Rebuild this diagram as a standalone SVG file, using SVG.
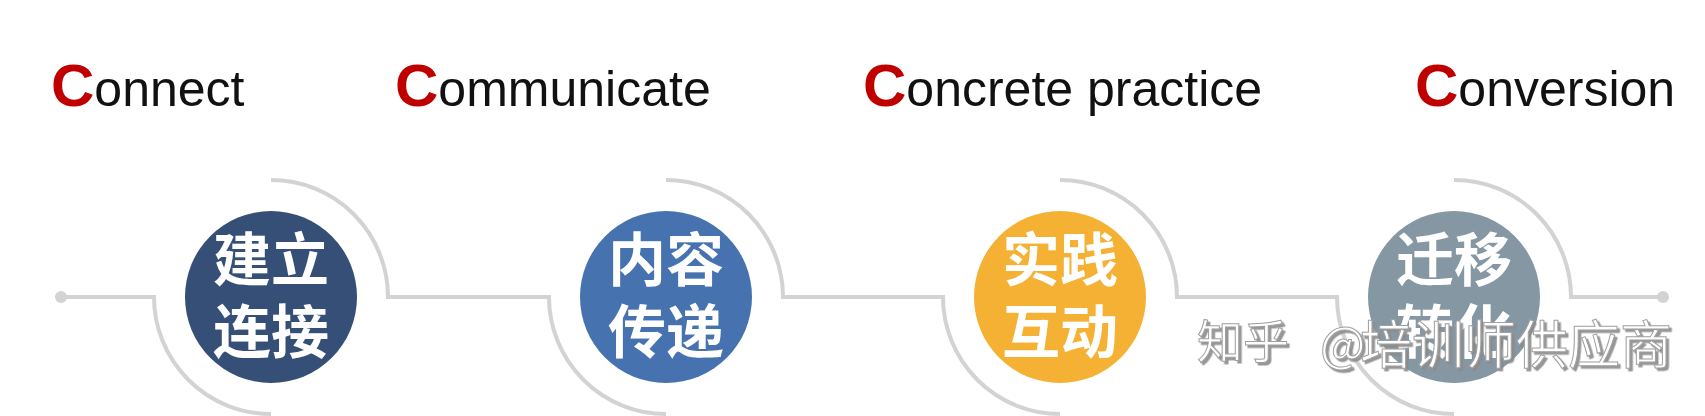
<svg xmlns="http://www.w3.org/2000/svg" width="1705" height="416" viewBox="0 0 1705 416">
  <defs>
    <style>
      .conn { fill: none; stroke: #d3d3d3; stroke-width: 4; }
      .dot { fill: #d3d3d3; }
      .title { font-family: "Liberation Sans", Arial, sans-serif; font-size: 50px; fill: #111111; }
      .cap { font-size: 60px; font-weight: bold; fill: #c00000; }
      .label { font-family: "Noto Sans CJK SC", "Noto Sans", sans-serif; font-size: 58px; font-weight: bold; fill: #ffffff; text-anchor: middle; }
      .wm { font-family: "Noto Sans CJK SC", sans-serif; fill: #ffffff; stroke: #a0a0a0; stroke-width: 1; }
    </style>
    <filter id="wmShadow" x="-5%" y="-20%" width="110%" height="140%">
      <feDropShadow dx="2.5" dy="2.5" stdDeviation="0.6" flood-color="#8a8a8a" flood-opacity="0.9"/>
    </filter>
  </defs>
  <rect width="1705" height="416" fill="#ffffff"/>

  <g id="connectors">
    <circle class="dot" cx="61" cy="297" r="6"/>
    <circle class="dot" cx="1663" cy="297" r="6"/>
    <path class="conn" d="M61 297 H154 A117 117 0 0 0 271 414"/>
    <path class="conn" d="M271 180 A117 117 0 0 1 388 297 H549 A117 117 0 0 0 666 414"/>
    <path class="conn" d="M666 180 A117 117 0 0 1 783 297 H943 A117 117 0 0 0 1060 414"/>
    <path class="conn" d="M1060 180 A117 117 0 0 1 1177 297 H1337 A117 117 0 0 0 1454 414"/>
    <path class="conn" d="M1454 180 A117 117 0 0 1 1571 297 H1663"/>
  </g>

  <g id="title-connect">
    <text class="title" x="51" y="106"><tspan class="cap">C</tspan>onnect</text>
  </g>
  <g id="title-communicate">
    <text class="title" x="395" y="106"><tspan class="cap">C</tspan>ommunicate</text>
  </g>
  <g id="title-concrete">
    <text class="title" x="863" y="106"><tspan class="cap">C</tspan>oncrete practice</text>
  </g>
  <g id="title-conversion">
    <text class="title" x="1415" y="106"><tspan class="cap">C</tspan>onversion</text>
  </g>

  <g id="node-1">
    <circle cx="271" cy="297" r="86" fill="#354f76"/>
    <text class="label"><tspan x="271" y="281">建立</tspan><tspan x="271" y="353">连接</tspan></text>
  </g>
  <g id="node-2">
    <circle cx="666" cy="297" r="86" fill="#4673b0"/>
    <text class="label"><tspan x="666" y="281">内容</tspan><tspan x="666" y="353">传递</tspan></text>
  </g>
  <g id="node-3">
    <circle cx="1060" cy="297" r="86" fill="#f5b133"/>
    <text class="label"><tspan x="1060" y="281">实践</tspan><tspan x="1060" y="353">互动</tspan></text>
  </g>
  <g id="node-4">
    <circle cx="1454" cy="297" r="86" fill="#8497a3"/>
    <text class="label"><tspan x="1454" y="281">迁移</tspan><tspan x="1454" y="353">转化</tspan></text>
  </g>

  <g id="watermark" filter="url(#wmShadow)">
    <text class="wm"><tspan x="1197" y="358" font-size="46">知乎</tspan><tspan x="1320" y="362" font-size="48">@</tspan><tspan x="1360" y="364" font-size="52">培训师供应商</tspan></text>
  </g>
</svg>
